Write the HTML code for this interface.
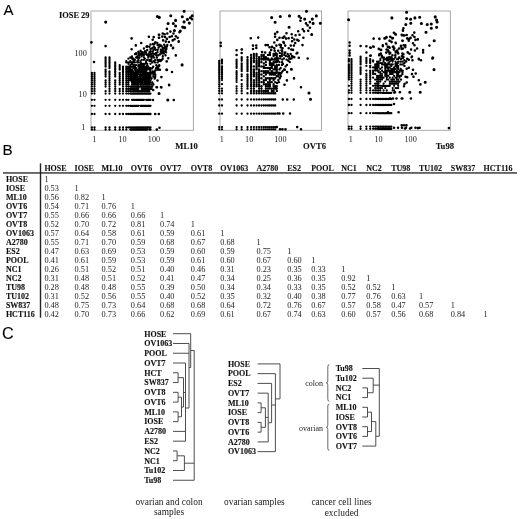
<!DOCTYPE html><html><head><meta charset="utf-8"><style>*{margin:0;padding:0}html,body{width:520px;height:519px;background:#fff;overflow:hidden}svg{display:block;filter:blur(0.25px)}</style></head><body><svg width="520" height="519" viewBox="0 0 520 519" font-family="Liberation Serif, serif"><text x="3.4" y="14.6" font-size="15" font-family="Liberation Sans, sans-serif" fill="#000" stroke="#000" stroke-width="0.1">A</text><text x="2.6" y="154.6" font-size="15.2" font-family="Liberation Sans, sans-serif" fill="#000" stroke="#000" stroke-width="0.1">B</text><text x="2.0" y="338.7" font-size="16.2" font-family="Liberation Sans, sans-serif" fill="#000" stroke="#000" stroke-width="0.1">C</text><text x="44.4" y="170.9" font-size="8" font-weight="bold" fill="#111" stroke="#111" stroke-width="0.12">HOSE</text><text x="74.6" y="170.9" font-size="8" font-weight="bold" fill="#111" stroke="#111" stroke-width="0.12">IOSE</text><text x="101.6" y="170.9" font-size="8" font-weight="bold" fill="#111" stroke="#111" stroke-width="0.12">ML10</text><text x="130.8" y="170.9" font-size="8" font-weight="bold" fill="#111" stroke="#111" stroke-width="0.12">OVT6</text><text x="160.0" y="170.9" font-size="8" font-weight="bold" fill="#111" stroke="#111" stroke-width="0.12">OVT7</text><text x="190.8" y="170.9" font-size="8" font-weight="bold" fill="#111" stroke="#111" stroke-width="0.12">OVT8</text><text x="220.2" y="170.9" font-size="8" font-weight="bold" fill="#111" stroke="#111" stroke-width="0.12">OV1063</text><text x="256.5" y="170.9" font-size="8" font-weight="bold" fill="#111" stroke="#111" stroke-width="0.12">A2780</text><text x="287.2" y="170.9" font-size="8" font-weight="bold" fill="#111" stroke="#111" stroke-width="0.12">ES2</text><text x="311.2" y="170.9" font-size="8" font-weight="bold" fill="#111" stroke="#111" stroke-width="0.12">POOL</text><text x="341.2" y="170.9" font-size="8" font-weight="bold" fill="#111" stroke="#111" stroke-width="0.12">NC1</text><text x="366.3" y="170.9" font-size="8" font-weight="bold" fill="#111" stroke="#111" stroke-width="0.12">NC2</text><text x="391.2" y="170.9" font-size="8" font-weight="bold" fill="#111" stroke="#111" stroke-width="0.12">TU98</text><text x="418.9" y="170.9" font-size="8" font-weight="bold" fill="#111" stroke="#111" stroke-width="0.12">TU102</text><text x="450.7" y="170.9" font-size="8" font-weight="bold" fill="#111" stroke="#111" stroke-width="0.12">SW837</text><text x="483.6" y="170.9" font-size="8" font-weight="bold" fill="#111" stroke="#111" stroke-width="0.12">HCT116</text><text x="5.9" y="181.7" font-size="8" font-weight="bold" fill="#111" stroke="#111" stroke-width="0.12">HOSE</text><text x="44.4" y="181.7" font-size="8.3" fill="#222" stroke="#222" stroke-width="0.0">1</text><text x="5.9" y="190.7" font-size="8" font-weight="bold" fill="#111" stroke="#111" stroke-width="0.12">IOSE</text><text x="44.4" y="190.7" font-size="8.3" fill="#222" stroke="#222" stroke-width="0.0">0.53</text><text x="74.6" y="190.7" font-size="8.3" fill="#222" stroke="#222" stroke-width="0.0">1</text><text x="5.9" y="199.8" font-size="8" font-weight="bold" fill="#111" stroke="#111" stroke-width="0.12">ML10</text><text x="44.4" y="199.8" font-size="8.3" fill="#222" stroke="#222" stroke-width="0.0">0.56</text><text x="74.6" y="199.8" font-size="8.3" fill="#222" stroke="#222" stroke-width="0.0">0.82</text><text x="101.6" y="199.8" font-size="8.3" fill="#222" stroke="#222" stroke-width="0.0">1</text><text x="5.9" y="208.8" font-size="8" font-weight="bold" fill="#111" stroke="#111" stroke-width="0.12">OVT6</text><text x="44.4" y="208.8" font-size="8.3" fill="#222" stroke="#222" stroke-width="0.0">0.54</text><text x="74.6" y="208.8" font-size="8.3" fill="#222" stroke="#222" stroke-width="0.0">0.71</text><text x="101.6" y="208.8" font-size="8.3" fill="#222" stroke="#222" stroke-width="0.0">0.76</text><text x="130.8" y="208.8" font-size="8.3" fill="#222" stroke="#222" stroke-width="0.0">1</text><text x="5.9" y="217.8" font-size="8" font-weight="bold" fill="#111" stroke="#111" stroke-width="0.12">OVT7</text><text x="44.4" y="217.8" font-size="8.3" fill="#222" stroke="#222" stroke-width="0.0">0.55</text><text x="74.6" y="217.8" font-size="8.3" fill="#222" stroke="#222" stroke-width="0.0">0.66</text><text x="101.6" y="217.8" font-size="8.3" fill="#222" stroke="#222" stroke-width="0.0">0.66</text><text x="130.8" y="217.8" font-size="8.3" fill="#222" stroke="#222" stroke-width="0.0">0.66</text><text x="160.0" y="217.8" font-size="8.3" fill="#222" stroke="#222" stroke-width="0.0">1</text><text x="5.9" y="226.8" font-size="8" font-weight="bold" fill="#111" stroke="#111" stroke-width="0.12">OVT8</text><text x="44.4" y="226.8" font-size="8.3" fill="#222" stroke="#222" stroke-width="0.0">0.52</text><text x="74.6" y="226.8" font-size="8.3" fill="#222" stroke="#222" stroke-width="0.0">0.70</text><text x="101.6" y="226.8" font-size="8.3" fill="#222" stroke="#222" stroke-width="0.0">0.72</text><text x="130.8" y="226.8" font-size="8.3" fill="#222" stroke="#222" stroke-width="0.0">0.81</text><text x="160.0" y="226.8" font-size="8.3" fill="#222" stroke="#222" stroke-width="0.0">0.74</text><text x="190.8" y="226.8" font-size="8.3" fill="#222" stroke="#222" stroke-width="0.0">1</text><text x="5.9" y="235.9" font-size="8" font-weight="bold" fill="#111" stroke="#111" stroke-width="0.12">OV1063</text><text x="44.4" y="235.9" font-size="8.3" fill="#222" stroke="#222" stroke-width="0.0">0.57</text><text x="74.6" y="235.9" font-size="8.3" fill="#222" stroke="#222" stroke-width="0.0">0.64</text><text x="101.6" y="235.9" font-size="8.3" fill="#222" stroke="#222" stroke-width="0.0">0.58</text><text x="130.8" y="235.9" font-size="8.3" fill="#222" stroke="#222" stroke-width="0.0">0.61</text><text x="160.0" y="235.9" font-size="8.3" fill="#222" stroke="#222" stroke-width="0.0">0.59</text><text x="190.8" y="235.9" font-size="8.3" fill="#222" stroke="#222" stroke-width="0.0">0.61</text><text x="220.2" y="235.9" font-size="8.3" fill="#222" stroke="#222" stroke-width="0.0">1</text><text x="5.9" y="244.9" font-size="8" font-weight="bold" fill="#111" stroke="#111" stroke-width="0.12">A2780</text><text x="44.4" y="244.9" font-size="8.3" fill="#222" stroke="#222" stroke-width="0.0">0.55</text><text x="74.6" y="244.9" font-size="8.3" fill="#222" stroke="#222" stroke-width="0.0">0.71</text><text x="101.6" y="244.9" font-size="8.3" fill="#222" stroke="#222" stroke-width="0.0">0.70</text><text x="130.8" y="244.9" font-size="8.3" fill="#222" stroke="#222" stroke-width="0.0">0.59</text><text x="160.0" y="244.9" font-size="8.3" fill="#222" stroke="#222" stroke-width="0.0">0.68</text><text x="190.8" y="244.9" font-size="8.3" fill="#222" stroke="#222" stroke-width="0.0">0.67</text><text x="220.2" y="244.9" font-size="8.3" fill="#222" stroke="#222" stroke-width="0.0">0.68</text><text x="256.5" y="244.9" font-size="8.3" fill="#222" stroke="#222" stroke-width="0.0">1</text><text x="5.9" y="253.9" font-size="8" font-weight="bold" fill="#111" stroke="#111" stroke-width="0.12">ES2</text><text x="44.4" y="253.9" font-size="8.3" fill="#222" stroke="#222" stroke-width="0.0">0.47</text><text x="74.6" y="253.9" font-size="8.3" fill="#222" stroke="#222" stroke-width="0.0">0.63</text><text x="101.6" y="253.9" font-size="8.3" fill="#222" stroke="#222" stroke-width="0.0">0.69</text><text x="130.8" y="253.9" font-size="8.3" fill="#222" stroke="#222" stroke-width="0.0">0.53</text><text x="160.0" y="253.9" font-size="8.3" fill="#222" stroke="#222" stroke-width="0.0">0.59</text><text x="190.8" y="253.9" font-size="8.3" fill="#222" stroke="#222" stroke-width="0.0">0.60</text><text x="220.2" y="253.9" font-size="8.3" fill="#222" stroke="#222" stroke-width="0.0">0.59</text><text x="256.5" y="253.9" font-size="8.3" fill="#222" stroke="#222" stroke-width="0.0">0.75</text><text x="287.2" y="253.9" font-size="8.3" fill="#222" stroke="#222" stroke-width="0.0">1</text><text x="5.9" y="263.0" font-size="8" font-weight="bold" fill="#111" stroke="#111" stroke-width="0.12">POOL</text><text x="44.4" y="263.0" font-size="8.3" fill="#222" stroke="#222" stroke-width="0.0">0.41</text><text x="74.6" y="263.0" font-size="8.3" fill="#222" stroke="#222" stroke-width="0.0">0.61</text><text x="101.6" y="263.0" font-size="8.3" fill="#222" stroke="#222" stroke-width="0.0">0.59</text><text x="130.8" y="263.0" font-size="8.3" fill="#222" stroke="#222" stroke-width="0.0">0.53</text><text x="160.0" y="263.0" font-size="8.3" fill="#222" stroke="#222" stroke-width="0.0">0.59</text><text x="190.8" y="263.0" font-size="8.3" fill="#222" stroke="#222" stroke-width="0.0">0.61</text><text x="220.2" y="263.0" font-size="8.3" fill="#222" stroke="#222" stroke-width="0.0">0.60</text><text x="256.5" y="263.0" font-size="8.3" fill="#222" stroke="#222" stroke-width="0.0">0.67</text><text x="287.2" y="263.0" font-size="8.3" fill="#222" stroke="#222" stroke-width="0.0">0.60</text><text x="311.2" y="263.0" font-size="8.3" fill="#222" stroke="#222" stroke-width="0.0">1</text><text x="5.9" y="272.0" font-size="8" font-weight="bold" fill="#111" stroke="#111" stroke-width="0.12">NC1</text><text x="44.4" y="272.0" font-size="8.3" fill="#222" stroke="#222" stroke-width="0.0">0.26</text><text x="74.6" y="272.0" font-size="8.3" fill="#222" stroke="#222" stroke-width="0.0">0.51</text><text x="101.6" y="272.0" font-size="8.3" fill="#222" stroke="#222" stroke-width="0.0">0.52</text><text x="130.8" y="272.0" font-size="8.3" fill="#222" stroke="#222" stroke-width="0.0">0.51</text><text x="160.0" y="272.0" font-size="8.3" fill="#222" stroke="#222" stroke-width="0.0">0.40</text><text x="190.8" y="272.0" font-size="8.3" fill="#222" stroke="#222" stroke-width="0.0">0.46</text><text x="220.2" y="272.0" font-size="8.3" fill="#222" stroke="#222" stroke-width="0.0">0.31</text><text x="256.5" y="272.0" font-size="8.3" fill="#222" stroke="#222" stroke-width="0.0">0.23</text><text x="287.2" y="272.0" font-size="8.3" fill="#222" stroke="#222" stroke-width="0.0">0.35</text><text x="311.2" y="272.0" font-size="8.3" fill="#222" stroke="#222" stroke-width="0.0">0.33</text><text x="341.2" y="272.0" font-size="8.3" fill="#222" stroke="#222" stroke-width="0.0">1</text><text x="5.9" y="281.0" font-size="8" font-weight="bold" fill="#111" stroke="#111" stroke-width="0.12">NC2</text><text x="44.4" y="281.0" font-size="8.3" fill="#222" stroke="#222" stroke-width="0.0">0.31</text><text x="74.6" y="281.0" font-size="8.3" fill="#222" stroke="#222" stroke-width="0.0">0.48</text><text x="101.6" y="281.0" font-size="8.3" fill="#222" stroke="#222" stroke-width="0.0">0.51</text><text x="130.8" y="281.0" font-size="8.3" fill="#222" stroke="#222" stroke-width="0.0">0.52</text><text x="160.0" y="281.0" font-size="8.3" fill="#222" stroke="#222" stroke-width="0.0">0.41</text><text x="190.8" y="281.0" font-size="8.3" fill="#222" stroke="#222" stroke-width="0.0">0.47</text><text x="220.2" y="281.0" font-size="8.3" fill="#222" stroke="#222" stroke-width="0.0">0.34</text><text x="256.5" y="281.0" font-size="8.3" fill="#222" stroke="#222" stroke-width="0.0">0.25</text><text x="287.2" y="281.0" font-size="8.3" fill="#222" stroke="#222" stroke-width="0.0">0.36</text><text x="311.2" y="281.0" font-size="8.3" fill="#222" stroke="#222" stroke-width="0.0">0.35</text><text x="341.2" y="281.0" font-size="8.3" fill="#222" stroke="#222" stroke-width="0.0">0.92</text><text x="366.3" y="281.0" font-size="8.3" fill="#222" stroke="#222" stroke-width="0.0">1</text><text x="5.9" y="290.1" font-size="8" font-weight="bold" fill="#111" stroke="#111" stroke-width="0.12">TU98</text><text x="44.4" y="290.1" font-size="8.3" fill="#222" stroke="#222" stroke-width="0.0">0.28</text><text x="74.6" y="290.1" font-size="8.3" fill="#222" stroke="#222" stroke-width="0.0">0.48</text><text x="101.6" y="290.1" font-size="8.3" fill="#222" stroke="#222" stroke-width="0.0">0.48</text><text x="130.8" y="290.1" font-size="8.3" fill="#222" stroke="#222" stroke-width="0.0">0.55</text><text x="160.0" y="290.1" font-size="8.3" fill="#222" stroke="#222" stroke-width="0.0">0.39</text><text x="190.8" y="290.1" font-size="8.3" fill="#222" stroke="#222" stroke-width="0.0">0.50</text><text x="220.2" y="290.1" font-size="8.3" fill="#222" stroke="#222" stroke-width="0.0">0.34</text><text x="256.5" y="290.1" font-size="8.3" fill="#222" stroke="#222" stroke-width="0.0">0.34</text><text x="287.2" y="290.1" font-size="8.3" fill="#222" stroke="#222" stroke-width="0.0">0.33</text><text x="311.2" y="290.1" font-size="8.3" fill="#222" stroke="#222" stroke-width="0.0">0.35</text><text x="341.2" y="290.1" font-size="8.3" fill="#222" stroke="#222" stroke-width="0.0">0.52</text><text x="366.3" y="290.1" font-size="8.3" fill="#222" stroke="#222" stroke-width="0.0">0.52</text><text x="391.2" y="290.1" font-size="8.3" fill="#222" stroke="#222" stroke-width="0.0">1</text><text x="5.9" y="299.1" font-size="8" font-weight="bold" fill="#111" stroke="#111" stroke-width="0.12">TU102</text><text x="44.4" y="299.1" font-size="8.3" fill="#222" stroke="#222" stroke-width="0.0">0.31</text><text x="74.6" y="299.1" font-size="8.3" fill="#222" stroke="#222" stroke-width="0.0">0.52</text><text x="101.6" y="299.1" font-size="8.3" fill="#222" stroke="#222" stroke-width="0.0">0.56</text><text x="130.8" y="299.1" font-size="8.3" fill="#222" stroke="#222" stroke-width="0.0">0.55</text><text x="160.0" y="299.1" font-size="8.3" fill="#222" stroke="#222" stroke-width="0.0">0.40</text><text x="190.8" y="299.1" font-size="8.3" fill="#222" stroke="#222" stroke-width="0.0">0.52</text><text x="220.2" y="299.1" font-size="8.3" fill="#222" stroke="#222" stroke-width="0.0">0.35</text><text x="256.5" y="299.1" font-size="8.3" fill="#222" stroke="#222" stroke-width="0.0">0.32</text><text x="287.2" y="299.1" font-size="8.3" fill="#222" stroke="#222" stroke-width="0.0">0.40</text><text x="311.2" y="299.1" font-size="8.3" fill="#222" stroke="#222" stroke-width="0.0">0.38</text><text x="341.2" y="299.1" font-size="8.3" fill="#222" stroke="#222" stroke-width="0.0">0.77</text><text x="366.3" y="299.1" font-size="8.3" fill="#222" stroke="#222" stroke-width="0.0">0.76</text><text x="391.2" y="299.1" font-size="8.3" fill="#222" stroke="#222" stroke-width="0.0">0.63</text><text x="418.9" y="299.1" font-size="8.3" fill="#222" stroke="#222" stroke-width="0.0">1</text><text x="5.9" y="308.1" font-size="8" font-weight="bold" fill="#111" stroke="#111" stroke-width="0.12">SW837</text><text x="44.4" y="308.1" font-size="8.3" fill="#222" stroke="#222" stroke-width="0.0">0.48</text><text x="74.6" y="308.1" font-size="8.3" fill="#222" stroke="#222" stroke-width="0.0">0.75</text><text x="101.6" y="308.1" font-size="8.3" fill="#222" stroke="#222" stroke-width="0.0">0.73</text><text x="130.8" y="308.1" font-size="8.3" fill="#222" stroke="#222" stroke-width="0.0">0.64</text><text x="160.0" y="308.1" font-size="8.3" fill="#222" stroke="#222" stroke-width="0.0">0.68</text><text x="190.8" y="308.1" font-size="8.3" fill="#222" stroke="#222" stroke-width="0.0">0.68</text><text x="220.2" y="308.1" font-size="8.3" fill="#222" stroke="#222" stroke-width="0.0">0.64</text><text x="256.5" y="308.1" font-size="8.3" fill="#222" stroke="#222" stroke-width="0.0">0.72</text><text x="287.2" y="308.1" font-size="8.3" fill="#222" stroke="#222" stroke-width="0.0">0.76</text><text x="311.2" y="308.1" font-size="8.3" fill="#222" stroke="#222" stroke-width="0.0">0.67</text><text x="341.2" y="308.1" font-size="8.3" fill="#222" stroke="#222" stroke-width="0.0">0.57</text><text x="366.3" y="308.1" font-size="8.3" fill="#222" stroke="#222" stroke-width="0.0">0.58</text><text x="391.2" y="308.1" font-size="8.3" fill="#222" stroke="#222" stroke-width="0.0">0.47</text><text x="418.9" y="308.1" font-size="8.3" fill="#222" stroke="#222" stroke-width="0.0">0.57</text><text x="450.7" y="308.1" font-size="8.3" fill="#222" stroke="#222" stroke-width="0.0">1</text><text x="5.9" y="317.1" font-size="8" font-weight="bold" fill="#111" stroke="#111" stroke-width="0.12">HCT116</text><text x="44.4" y="317.1" font-size="8.3" fill="#222" stroke="#222" stroke-width="0.0">0.42</text><text x="74.6" y="317.1" font-size="8.3" fill="#222" stroke="#222" stroke-width="0.0">0.70</text><text x="101.6" y="317.1" font-size="8.3" fill="#222" stroke="#222" stroke-width="0.0">0.73</text><text x="130.8" y="317.1" font-size="8.3" fill="#222" stroke="#222" stroke-width="0.0">0.66</text><text x="160.0" y="317.1" font-size="8.3" fill="#222" stroke="#222" stroke-width="0.0">0.62</text><text x="190.8" y="317.1" font-size="8.3" fill="#222" stroke="#222" stroke-width="0.0">0.69</text><text x="220.2" y="317.1" font-size="8.3" fill="#222" stroke="#222" stroke-width="0.0">0.61</text><text x="256.5" y="317.1" font-size="8.3" fill="#222" stroke="#222" stroke-width="0.0">0.67</text><text x="287.2" y="317.1" font-size="8.3" fill="#222" stroke="#222" stroke-width="0.0">0.74</text><text x="311.2" y="317.1" font-size="8.3" fill="#222" stroke="#222" stroke-width="0.0">0.63</text><text x="341.2" y="317.1" font-size="8.3" fill="#222" stroke="#222" stroke-width="0.0">0.60</text><text x="366.3" y="317.1" font-size="8.3" fill="#222" stroke="#222" stroke-width="0.0">0.57</text><text x="391.2" y="317.1" font-size="8.3" fill="#222" stroke="#222" stroke-width="0.0">0.56</text><text x="418.9" y="317.1" font-size="8.3" fill="#222" stroke="#222" stroke-width="0.0">0.68</text><text x="450.7" y="317.1" font-size="8.3" fill="#222" stroke="#222" stroke-width="0.0">0.84</text><text x="483.6" y="317.1" font-size="8.3" fill="#222" stroke="#222" stroke-width="0.0">1</text><rect x="3" y="172.3" width="514" height="1.3" fill="#222"/><rect x="39.8" y="163.3" width="1.4" height="154.4" fill="#222"/><rect x="91" y="11" width="102.4" height="119.30000000000001" fill="none" stroke="#aaa" stroke-width="1"/><rect x="220" y="11" width="101.5" height="119.30000000000001" fill="none" stroke="#aaa" stroke-width="1"/><rect x="348" y="11" width="102.39999999999998" height="119.30000000000001" fill="none" stroke="#aaa" stroke-width="1"/><text x="59.0" y="17.5" font-size="8.4" font-weight="bold" fill="#111" stroke="#111" stroke-width="0.12">IOSE 29</text><text x="86.8" y="56.4" font-size="8.2" text-anchor="end" fill="#222" stroke="#222" stroke-width="0.0">100</text><text x="86.8" y="97.0" font-size="8.2" text-anchor="end" fill="#222" stroke="#222" stroke-width="0.0">10</text><text x="85.3" y="130.3" font-size="8.2" text-anchor="end" fill="#222" stroke="#222" stroke-width="0.0">1</text><text x="94.3" y="142.2" font-size="8.2" text-anchor="middle" fill="#222" stroke="#222" stroke-width="0.0">1</text><text x="122.6" y="142.2" font-size="8.2" text-anchor="middle" fill="#222" stroke="#222" stroke-width="0.0">10</text><text x="154.0" y="142.2" font-size="8.2" text-anchor="middle" fill="#222" stroke="#222" stroke-width="0.0">100</text><text x="221.7" y="142.2" font-size="8.2" text-anchor="middle" fill="#222" stroke="#222" stroke-width="0.0">1</text><text x="249.2" y="142.2" font-size="8.2" text-anchor="middle" fill="#222" stroke="#222" stroke-width="0.0">10</text><text x="280.4" y="142.2" font-size="8.2" text-anchor="middle" fill="#222" stroke="#222" stroke-width="0.0">100</text><text x="350.8" y="142.2" font-size="8.2" text-anchor="middle" fill="#222" stroke="#222" stroke-width="0.0">1</text><text x="378.5" y="142.2" font-size="8.2" text-anchor="middle" fill="#222" stroke="#222" stroke-width="0.0">10</text><text x="410.6" y="142.2" font-size="8.2" text-anchor="middle" fill="#222" stroke="#222" stroke-width="0.0">100</text><text x="197.8" y="149.0" font-size="8.6" font-weight="bold" text-anchor="end" fill="#111" stroke="#111" stroke-width="0.12">ML10</text><text x="326.0" y="149.0" font-size="8.6" font-weight="bold" text-anchor="end" fill="#111" stroke="#111" stroke-width="0.12">OVT6</text><text x="454.0" y="149.0" font-size="8.6" font-weight="bold" text-anchor="end" fill="#111" stroke="#111" stroke-width="0.12">Tu98</text><text x="144.2" y="336.5" font-size="8" font-weight="bold" fill="#111" stroke="#111" stroke-width="0.12">HOSE</text><text x="144.2" y="346.3" font-size="8" font-weight="bold" fill="#111" stroke="#111" stroke-width="0.12">OV1063</text><text x="144.2" y="356.0" font-size="8" font-weight="bold" fill="#111" stroke="#111" stroke-width="0.12">POOL</text><text x="144.2" y="365.8" font-size="8" font-weight="bold" fill="#111" stroke="#111" stroke-width="0.12">OVT7</text><text x="144.2" y="375.6" font-size="8" font-weight="bold" fill="#111" stroke="#111" stroke-width="0.12">HCT</text><text x="144.2" y="385.4" font-size="8" font-weight="bold" fill="#111" stroke="#111" stroke-width="0.12">SW837</text><text x="144.2" y="395.1" font-size="8" font-weight="bold" fill="#111" stroke="#111" stroke-width="0.12">OVT8</text><text x="144.2" y="404.9" font-size="8" font-weight="bold" fill="#111" stroke="#111" stroke-width="0.12">OVT6</text><text x="144.2" y="414.7" font-size="8" font-weight="bold" fill="#111" stroke="#111" stroke-width="0.12">ML10</text><text x="144.2" y="424.4" font-size="8" font-weight="bold" fill="#111" stroke="#111" stroke-width="0.12">IOSE</text><text x="144.2" y="434.2" font-size="8" font-weight="bold" fill="#111" stroke="#111" stroke-width="0.12">A2780</text><text x="144.2" y="444.0" font-size="8" font-weight="bold" fill="#111" stroke="#111" stroke-width="0.12">ES2</text><text x="144.2" y="453.7" font-size="8" font-weight="bold" fill="#111" stroke="#111" stroke-width="0.12">NC2</text><text x="144.2" y="463.5" font-size="8" font-weight="bold" fill="#111" stroke="#111" stroke-width="0.12">NC1</text><text x="144.2" y="473.3" font-size="8" font-weight="bold" fill="#111" stroke="#111" stroke-width="0.12">Tu102</text><text x="144.2" y="483.0" font-size="8" font-weight="bold" fill="#111" stroke="#111" stroke-width="0.12">Tu98</text><text x="227.9" y="366.7" font-size="8" font-weight="bold" fill="#111" stroke="#111" stroke-width="0.12">HOSE</text><text x="227.9" y="376.4" font-size="8" font-weight="bold" fill="#111" stroke="#111" stroke-width="0.12">POOL</text><text x="227.9" y="386.2" font-size="8" font-weight="bold" fill="#111" stroke="#111" stroke-width="0.12">ES2</text><text x="227.9" y="395.9" font-size="8" font-weight="bold" fill="#111" stroke="#111" stroke-width="0.12">OVT7</text><text x="227.9" y="405.7" font-size="8" font-weight="bold" fill="#111" stroke="#111" stroke-width="0.12">ML10</text><text x="227.9" y="415.4" font-size="8" font-weight="bold" fill="#111" stroke="#111" stroke-width="0.12">IOSE</text><text x="227.9" y="425.2" font-size="8" font-weight="bold" fill="#111" stroke="#111" stroke-width="0.12">OVT8</text><text x="227.9" y="434.9" font-size="8" font-weight="bold" fill="#111" stroke="#111" stroke-width="0.12">OVT6</text><text x="227.9" y="444.7" font-size="8" font-weight="bold" fill="#111" stroke="#111" stroke-width="0.12">A2780</text><text x="227.9" y="454.4" font-size="8" font-weight="bold" fill="#111" stroke="#111" stroke-width="0.12">OV1063</text><text x="335.7" y="371.3" font-size="8" font-weight="bold" fill="#111" stroke="#111" stroke-width="0.12">Tu98</text><text x="335.7" y="381.0" font-size="8" font-weight="bold" fill="#111" stroke="#111" stroke-width="0.12">Tu102</text><text x="335.7" y="390.7" font-size="8" font-weight="bold" fill="#111" stroke="#111" stroke-width="0.12">NC2</text><text x="335.7" y="400.4" font-size="8" font-weight="bold" fill="#111" stroke="#111" stroke-width="0.12">NC1</text><text x="335.7" y="410.1" font-size="8" font-weight="bold" fill="#111" stroke="#111" stroke-width="0.12">ML10</text><text x="335.7" y="419.8" font-size="8" font-weight="bold" fill="#111" stroke="#111" stroke-width="0.12">IOSE</text><text x="335.7" y="429.5" font-size="8" font-weight="bold" fill="#111" stroke="#111" stroke-width="0.12">OVT8</text><text x="335.7" y="439.2" font-size="8" font-weight="bold" fill="#111" stroke="#111" stroke-width="0.12">OVT6</text><text x="335.7" y="448.9" font-size="8" font-weight="bold" fill="#111" stroke="#111" stroke-width="0.12">OVT7</text><text x="323.1" y="386.3" font-size="8" text-anchor="end" fill="#222" stroke="#222" stroke-width="0.0">colon</text><text x="323.1" y="430.6" font-size="8" text-anchor="end" fill="#222" stroke="#222" stroke-width="0.0">ovarian</text><line x1="173" y1="333.7" x2="190.7" y2="333.7" stroke="#3a3a3a" stroke-width="0.9"/><line x1="190.7" y1="333.7" x2="190.7" y2="367.5" stroke="#3a3a3a" stroke-width="0.9"/><line x1="189" y1="367.5" x2="190.7" y2="367.5" stroke="#3a3a3a" stroke-width="0.9"/><line x1="190.7" y1="350.5" x2="194.2" y2="350.5" stroke="#3a3a3a" stroke-width="0.9"/><line x1="194.2" y1="350.5" x2="194.2" y2="480.25" stroke="#3a3a3a" stroke-width="0.9"/><line x1="173" y1="343.46999999999997" x2="189" y2="343.46999999999997" stroke="#3a3a3a" stroke-width="0.9"/><line x1="173" y1="353.24" x2="189" y2="353.24" stroke="#3a3a3a" stroke-width="0.9"/><line x1="189" y1="343.46999999999997" x2="189" y2="408" stroke="#3a3a3a" stroke-width="0.9"/><line x1="185.5" y1="408" x2="189" y2="408" stroke="#3a3a3a" stroke-width="0.9"/><line x1="173" y1="363.01" x2="185.5" y2="363.01" stroke="#3a3a3a" stroke-width="0.9"/><line x1="185.5" y1="363.01" x2="185.5" y2="441.16999999999996" stroke="#3a3a3a" stroke-width="0.9"/><line x1="173" y1="372.78" x2="178.1" y2="372.78" stroke="#3a3a3a" stroke-width="0.9"/><line x1="173" y1="382.54999999999995" x2="178.1" y2="382.54999999999995" stroke="#3a3a3a" stroke-width="0.9"/><line x1="178.1" y1="372.78" x2="178.1" y2="382.54999999999995" stroke="#3a3a3a" stroke-width="0.9"/><line x1="178.1" y1="377.66499999999996" x2="183.5" y2="377.66499999999996" stroke="#3a3a3a" stroke-width="0.9"/><line x1="173" y1="392.32" x2="178.1" y2="392.32" stroke="#3a3a3a" stroke-width="0.9"/><line x1="173" y1="402.09" x2="178.1" y2="402.09" stroke="#3a3a3a" stroke-width="0.9"/><line x1="178.1" y1="392.32" x2="178.1" y2="402.09" stroke="#3a3a3a" stroke-width="0.9"/><line x1="178.1" y1="397.205" x2="181.5" y2="397.205" stroke="#3a3a3a" stroke-width="0.9"/><line x1="173" y1="411.86" x2="178.1" y2="411.86" stroke="#3a3a3a" stroke-width="0.9"/><line x1="173" y1="421.63" x2="178.1" y2="421.63" stroke="#3a3a3a" stroke-width="0.9"/><line x1="178.1" y1="411.86" x2="178.1" y2="421.63" stroke="#3a3a3a" stroke-width="0.9"/><line x1="178.1" y1="416.745" x2="181.5" y2="416.745" stroke="#3a3a3a" stroke-width="0.9"/><line x1="181.5" y1="397.205" x2="181.5" y2="416.745" stroke="#3a3a3a" stroke-width="0.9"/><line x1="181.5" y1="407" x2="183.5" y2="407" stroke="#3a3a3a" stroke-width="0.9"/><line x1="183.5" y1="377.66499999999996" x2="183.5" y2="407" stroke="#3a3a3a" stroke-width="0.9"/><line x1="183.5" y1="392.5" x2="185.5" y2="392.5" stroke="#3a3a3a" stroke-width="0.9"/><line x1="173" y1="431.4" x2="185.5" y2="431.4" stroke="#3a3a3a" stroke-width="0.9"/><line x1="173" y1="441.16999999999996" x2="185.5" y2="441.16999999999996" stroke="#3a3a3a" stroke-width="0.9"/><line x1="173" y1="450.94" x2="177.1" y2="450.94" stroke="#3a3a3a" stroke-width="0.9"/><line x1="173" y1="460.71" x2="177.1" y2="460.71" stroke="#3a3a3a" stroke-width="0.9"/><line x1="177.1" y1="450.94" x2="177.1" y2="460.71" stroke="#3a3a3a" stroke-width="0.9"/><line x1="177.1" y1="455.825" x2="184.4" y2="455.825" stroke="#3a3a3a" stroke-width="0.9"/><line x1="173" y1="470.48" x2="184.4" y2="470.48" stroke="#3a3a3a" stroke-width="0.9"/><line x1="184.4" y1="455.825" x2="184.4" y2="470.48" stroke="#3a3a3a" stroke-width="0.9"/><line x1="184.4" y1="463.2" x2="194.2" y2="463.2" stroke="#3a3a3a" stroke-width="0.9"/><line x1="173" y1="480.25" x2="194.2" y2="480.25" stroke="#3a3a3a" stroke-width="0.9"/><line x1="257.6" y1="363.9" x2="280" y2="363.9" stroke="#3a3a3a" stroke-width="0.9"/><line x1="280" y1="363.9" x2="280" y2="398.9" stroke="#3a3a3a" stroke-width="0.9"/><line x1="275.4" y1="398.9" x2="280" y2="398.9" stroke="#3a3a3a" stroke-width="0.9"/><line x1="257.6" y1="373.65" x2="275.4" y2="373.65" stroke="#3a3a3a" stroke-width="0.9"/><line x1="275.4" y1="373.65" x2="275.4" y2="451.65" stroke="#3a3a3a" stroke-width="0.9"/><line x1="257.6" y1="451.65" x2="275.4" y2="451.65" stroke="#3a3a3a" stroke-width="0.9"/><line x1="257.6" y1="383.4" x2="271.6" y2="383.4" stroke="#3a3a3a" stroke-width="0.9"/><line x1="271.6" y1="383.4" x2="271.6" y2="422.7" stroke="#3a3a3a" stroke-width="0.9"/><line x1="271.6" y1="405" x2="275.4" y2="405" stroke="#3a3a3a" stroke-width="0.9"/><line x1="257.6" y1="393.15" x2="268.2" y2="393.15" stroke="#3a3a3a" stroke-width="0.9"/><line x1="268.2" y1="393.15" x2="268.2" y2="441.9" stroke="#3a3a3a" stroke-width="0.9"/><line x1="257.6" y1="441.9" x2="268.2" y2="441.9" stroke="#3a3a3a" stroke-width="0.9"/><line x1="268.2" y1="422.7" x2="271.6" y2="422.7" stroke="#3a3a3a" stroke-width="0.9"/><line x1="257.6" y1="402.9" x2="261.1" y2="402.9" stroke="#3a3a3a" stroke-width="0.9"/><line x1="257.6" y1="412.65" x2="261.1" y2="412.65" stroke="#3a3a3a" stroke-width="0.9"/><line x1="261.1" y1="402.9" x2="261.1" y2="412.65" stroke="#3a3a3a" stroke-width="0.9"/><line x1="261.1" y1="407.775" x2="265.4" y2="407.775" stroke="#3a3a3a" stroke-width="0.9"/><line x1="257.6" y1="422.4" x2="261.1" y2="422.4" stroke="#3a3a3a" stroke-width="0.9"/><line x1="257.6" y1="432.15" x2="261.1" y2="432.15" stroke="#3a3a3a" stroke-width="0.9"/><line x1="261.1" y1="422.4" x2="261.1" y2="432.15" stroke="#3a3a3a" stroke-width="0.9"/><line x1="261.1" y1="427.275" x2="265.4" y2="427.275" stroke="#3a3a3a" stroke-width="0.9"/><line x1="265.4" y1="407.775" x2="265.4" y2="427.275" stroke="#3a3a3a" stroke-width="0.9"/><line x1="265.4" y1="417.4" x2="268.2" y2="417.4" stroke="#3a3a3a" stroke-width="0.9"/><line x1="362.3" y1="368.5" x2="379.3" y2="368.5" stroke="#3a3a3a" stroke-width="0.9"/><line x1="379.3" y1="368.5" x2="379.3" y2="436.3" stroke="#3a3a3a" stroke-width="0.9"/><line x1="362.3" y1="378.2" x2="373.2" y2="378.2" stroke="#3a3a3a" stroke-width="0.9"/><line x1="373.2" y1="378.2" x2="373.2" y2="392.6" stroke="#3a3a3a" stroke-width="0.9"/><line x1="373.2" y1="385.1" x2="379.3" y2="385.1" stroke="#3a3a3a" stroke-width="0.9"/><line x1="362.3" y1="387.9" x2="367.5" y2="387.9" stroke="#3a3a3a" stroke-width="0.9"/><line x1="362.3" y1="397.6" x2="367.5" y2="397.6" stroke="#3a3a3a" stroke-width="0.9"/><line x1="367.5" y1="387.9" x2="367.5" y2="397.6" stroke="#3a3a3a" stroke-width="0.9"/><line x1="367.5" y1="392.75" x2="373.2" y2="392.75" stroke="#3a3a3a" stroke-width="0.9"/><line x1="362.3" y1="407.3" x2="367.5" y2="407.3" stroke="#3a3a3a" stroke-width="0.9"/><line x1="362.3" y1="417.0" x2="367.5" y2="417.0" stroke="#3a3a3a" stroke-width="0.9"/><line x1="367.5" y1="407.3" x2="367.5" y2="417.0" stroke="#3a3a3a" stroke-width="0.9"/><line x1="367.5" y1="412.15" x2="371.5" y2="412.15" stroke="#3a3a3a" stroke-width="0.9"/><line x1="362.3" y1="426.7" x2="367.5" y2="426.7" stroke="#3a3a3a" stroke-width="0.9"/><line x1="362.3" y1="436.4" x2="367.5" y2="436.4" stroke="#3a3a3a" stroke-width="0.9"/><line x1="367.5" y1="426.7" x2="367.5" y2="436.4" stroke="#3a3a3a" stroke-width="0.9"/><line x1="367.5" y1="431.54999999999995" x2="371.5" y2="431.54999999999995" stroke="#3a3a3a" stroke-width="0.9"/><line x1="371.5" y1="412.15" x2="371.5" y2="431.54999999999995" stroke="#3a3a3a" stroke-width="0.9"/><line x1="371.5" y1="421.6" x2="375.8" y2="421.6" stroke="#3a3a3a" stroke-width="0.9"/><line x1="362.3" y1="446.1" x2="375.8" y2="446.1" stroke="#3a3a3a" stroke-width="0.9"/><line x1="375.8" y1="421.6" x2="375.8" y2="446.1" stroke="#3a3a3a" stroke-width="0.9"/><line x1="375.8" y1="436.3" x2="379.3" y2="436.3" stroke="#3a3a3a" stroke-width="0.9"/><path d="M329.3,364.6 Q327.8,364.6 327.8,366.6 L327.8,380.9 Q327.8,382.9 326.3,382.9 Q327.8,382.9 327.8,384.9 L327.8,399.2 Q327.8,401.2 329.3,401.2" fill="none" stroke="#444" stroke-width="0.8"/><path d="M329.3,404 Q327.8,404 327.8,406 L327.8,425.2 Q327.8,427.2 326.3,427.2 Q327.8,427.2 327.8,429.2 L327.8,448.4 Q327.8,450.4 329.3,450.4" fill="none" stroke="#444" stroke-width="0.8"/><text x="169.0" y="504.6" font-size="9.4" text-anchor="middle" fill="#222" stroke="#222" stroke-width="0.0">ovarian and colon</text><text x="169.0" y="515.3" font-size="9.4" text-anchor="middle" fill="#222" stroke="#222" stroke-width="0.0">samples</text><text x="254.4" y="505.0" font-size="9.4" text-anchor="middle" fill="#222" stroke="#222" stroke-width="0.0">ovarian samples</text><text x="341.6" y="505.2" font-size="9.4" text-anchor="middle" fill="#222" stroke="#222" stroke-width="0.0">cancer cell lines</text><text x="341.6" y="516.2" font-size="9.4" text-anchor="middle" fill="#222" stroke="#222" stroke-width="0.0">excluded</text><path d="M126.3 93.6h0M139.5 93.6h0M147.2 93.6h0M146.1 93.6h0M137.3 93.6h0M132.0 93.6h0M143.9 93.6h0M142.8 93.6h0M138.4 93.6h0M134.9 93.6h0M136.1 93.6h0M141.7 93.6h0M150.5 93.6h0M148.3 93.6h0M128.4 93.6h0M145.0 93.6h0M140.6 93.6h0M133.5 93.6h0M149.4 93.6h0M145.0 76.6h0M149.4 91.2h0M132.0 86.6h0M130.3 69.7h0M136.1 82.4h0M150.5 69.7h0M143.9 78.5h0M143.9 69.7h0M149.4 68.2h0M126.3 74.8h0M149.4 82.4h0M126.3 82.4h0M137.3 82.4h0M145.0 84.5h0M147.2 76.6h0M146.1 91.2h0M136.1 91.2h0M150.5 76.6h0M134.9 86.6h0M137.3 78.5h0M134.9 78.5h0M128.4 68.2h0M145.0 82.4h0M142.8 88.9h0M130.3 73.0h0M132.0 74.8h0M133.5 84.5h0M128.4 69.7h0M143.9 86.6h0M132.0 84.5h0M126.3 76.6h0M140.6 73.0h0M133.5 82.4h0M140.6 69.7h0M143.9 68.2h0M130.3 71.4h0M138.4 82.4h0M143.9 74.8h0M133.5 66.7h0M126.3 80.4h0M126.3 71.4h0M133.5 68.2h0M126.3 91.2h0M136.1 71.4h0M143.9 66.7h0M130.3 93.6h0M149.4 84.5h0M126.3 69.7h0M141.7 68.2h0M128.4 91.2h0M133.5 74.8h0M126.3 88.9h0M142.8 80.4h0M132.0 82.4h0M150.5 88.9h0M141.7 80.4h0M143.9 88.9h0M146.1 78.5h0M128.4 66.7h0M130.3 91.2h0M134.9 74.8h0M138.4 66.7h0M143.9 80.4h0M148.3 91.2h0M133.5 73.0h0M150.5 80.4h0M126.3 66.7h0M138.4 78.5h0M134.9 88.9h0M141.7 86.6h0M140.6 71.4h0M147.2 66.7h0M143.9 71.4h0M139.5 68.2h0M136.1 84.5h0M126.3 73.0h0M134.9 80.4h0M137.3 91.2h0M132.0 88.9h0M150.5 68.2h0M146.1 80.4h0M134.9 76.6h0M146.1 71.4h0M130.3 80.4h0M132.0 69.7h0M128.4 88.9h0M149.4 69.7h0M128.4 71.4h0M140.6 78.5h0M142.8 74.8h0M149.4 73.0h0M149.4 76.6h0M138.4 91.2h0M142.8 68.2h0M126.3 78.5h0M140.6 74.8h0M146.1 82.4h0M128.4 80.4h0M141.7 78.5h0M148.3 76.6h0M138.4 69.7h0M139.5 86.6h0M145.0 73.0h0M151.6 86.6h0M136.1 78.5h0M132.0 91.2h0M134.9 91.2h0M128.4 76.6h0M147.2 91.2h0M148.3 84.5h0M145.0 78.5h0M132.0 80.4h0M145.0 88.9h0M146.1 68.2h0M148.3 82.4h0M149.4 88.9h0M148.3 68.2h0M140.6 84.5h0M130.3 76.6h0M147.2 80.4h0M138.4 86.6h0M134.9 82.4h0M133.5 76.6h0M141.7 91.2h0M140.6 80.4h0M148.3 74.8h0M137.3 69.7h0M138.4 73.0h0M134.9 84.5h0M128.4 78.5h0M133.5 91.2h0M126.3 86.6h0M132.0 66.7h0M145.0 68.2h0M143.9 91.2h0M148.3 88.9h0M139.5 80.4h0M150.5 74.8h0M142.8 86.6h0M126.3 68.2h0M142.8 82.4h0M139.5 66.7h0M150.5 71.4h0M137.3 80.4h0M142.8 76.6h0M136.1 76.6h0M136.1 74.8h0M147.2 88.9h0M139.5 78.5h0M133.5 86.6h0M142.8 71.4h0M147.2 84.5h0M126.3 84.5h0M140.6 82.4h0M136.1 73.0h0M146.1 73.0h0M143.9 76.6h0M133.5 80.4h0M138.4 84.5h0M141.7 84.5h0M133.5 88.9h0M128.4 82.4h0M147.2 86.6h0M128.4 74.8h0M141.7 71.4h0M134.9 66.7h0M142.8 84.5h0M137.3 71.4h0M137.3 73.0h0M146.1 88.9h0M147.2 74.8h0M145.0 91.2h0M138.4 88.9h0M138.4 71.4h0M149.4 80.4h0M142.8 78.5h0M137.3 84.5h0M151.6 88.9h0M130.3 68.2h0M150.5 86.6h0M136.1 86.6h0M132.0 73.0h0M142.8 66.7h0M133.5 71.4h0M137.3 86.6h0M139.5 71.4h0M149.4 74.8h0M137.3 88.9h0M137.3 74.8h0M142.8 73.0h0M147.2 73.0h0M141.7 82.4h0M145.0 80.4h0M143.9 73.0h0M146.1 69.7h0M141.7 88.9h0M132.0 78.5h0M130.3 86.6h0M145.0 86.6h0M136.1 80.4h0M132.0 76.6h0M130.3 66.7h0M139.5 76.6h0M128.4 84.5h0M146.1 86.6h0M136.1 88.9h0M138.4 80.4h0M137.3 76.6h0M148.3 78.5h0M136.1 68.2h0M150.5 82.4h0M139.5 74.8h0M130.3 78.5h0M147.2 69.7h0M134.9 73.0h0M132.0 71.4h0M146.1 66.7h0M150.5 73.0h0M149.4 86.6h0M133.5 78.5h0M141.7 74.8h0M139.5 69.7h0M147.2 78.5h0M130.3 74.8h0M139.5 91.2h0M140.6 76.6h0M139.5 82.4h0M148.3 73.0h0M142.8 91.2h0M149.4 78.5h0M128.4 86.6h0M128.4 73.0h0M148.3 80.4h0M134.9 68.2h0M146.1 74.8h0M140.6 86.6h0M146.1 76.6h0M130.3 88.9h0M143.9 84.5h0M142.8 69.7h0M145.0 69.7h0M148.3 66.7h0M146.1 84.5h0M140.6 91.2h0M148.3 86.6h0M147.2 82.4h0M145.0 74.8h0M134.9 69.7h0M140.6 66.7h0M139.5 53.2h0M150.5 52.2h0M133.5 65.2h0M138.4 53.2h0M128.4 63.8h0M141.7 53.2h0M132.0 58.7h0M141.7 63.8h0M143.9 55.2h0M141.7 54.2h0M136.1 53.2h0M140.6 62.4h0M149.4 52.2h0M136.1 54.2h0M134.9 65.2h0M132.0 62.4h0M150.5 59.9h0M150.5 61.1h0M139.5 65.2h0M133.5 61.1h0M141.7 55.2h0M151.6 78.5h0M151.6 73.0h0M151.6 54.2h0M151.6 61.1h0M148.3 54.2h0M142.8 52.2h0M151.6 56.3h0M136.1 65.2h0M140.6 61.1h0M141.7 65.2h0M147.2 63.8h0M146.1 52.2h0M138.4 62.4h0M138.4 58.7h0M130.3 65.2h0M134.9 62.4h0M143.9 54.2h0M140.6 63.8h0M138.4 55.2h0M133.5 62.4h0M138.4 57.5h0M132.0 56.3h0M147.2 59.9h0M143.9 59.9h0M128.4 62.4h0M133.5 59.9h0M126.3 61.1h0M138.4 59.9h0M146.1 54.2h0M126.3 62.4h0M130.3 61.1h0M150.5 63.8h0M147.2 55.2h0M133.5 58.7h0M134.9 59.9h0M143.9 63.8h0M143.9 65.2h0M141.7 52.2h0M148.3 57.5h0M146.1 62.4h0M145.0 52.2h0M151.6 84.5h0M148.3 56.3h0M134.9 54.2h0M136.1 57.5h0M149.4 61.1h0M143.9 57.5h0M132.0 63.8h0M137.3 61.1h0M145.0 63.8h0M139.5 55.2h0M150.5 56.3h0M128.4 58.7h0M151.6 58.7h0M147.2 65.2h0M142.8 63.8h0M132.0 57.5h0M137.3 56.3h0M150.5 54.2h0M130.3 57.5h0M138.4 65.2h0M142.8 54.2h0M130.3 62.4h0M141.7 56.3h0M151.6 57.5h0M140.6 54.2h0M149.4 59.9h0M149.4 55.2h0M141.7 59.9h0M146.1 61.1h0M137.3 62.4h0M137.3 57.5h0M139.5 57.5h0M145.0 58.7h0" stroke="#000" stroke-width="2.3" stroke-linecap="round" fill="none"/><path d="M158.7 61.1h0M153.4 74.8h0M156.3 65.2h0M152.4 82.4h0M157.6 45.0h0M140.6 50.8h0M161.4 45.8h0M153.3 76.6h0M158.0 69.7h0M147.2 46.2h0M156.9 57.5h0M159.5 46.4h0M158.3 68.2h0M154.0 57.5h0M161.6 59.9h0M165.5 55.2h0M167.3 44.9h0M156.3 55.2h0M160.1 54.2h0M157.5 66.7h0M154.7 78.5h0M157.5 52.2h0M157.6 62.4h0M145.0 51.2h0M152.2 48.3h0M158.5 47.6h0M153.8 49.4h0M159.5 59.9h0M147.2 50.0h0M154.5 43.7h0M155.8 53.2h0M165.6 50.3h0M163.8 53.2h0M157.3 42.9h0M164.2 44.7h0M160.7 51.8h0M143.9 48.5h0M166.1 52.2h0M150.5 49.0h0M152.9 73.0h0M155.3 74.8h0M153.2 66.7h0M160.7 61.1h0M166.9 46.5h0M152.8 71.4h0M152.2 68.2h0M149.4 46.7h0M152.2 86.6h0M158.4 55.2h0M150.5 44.5h0M150.5 51.2h0M159.7 44.6h0M154.0 61.1h0M155.3 59.9h0M153.8 46.5h0M152.8 56.3h0M162.6 47.5h0M160.8 49.6h0M155.1 62.4h0M162.7 58.7h0M159.2 65.2h0M152.3 62.4h0M162.5 51.4h0M164.0 51.5h0M162.8 56.3h0M154.2 54.2h0M157.7 49.7h0M152.9 44.0h0M152.8 51.1h0M156.1 68.2h0M157.8 59.9h0M154.7 73.0h0M154.5 71.4h0M155.6 49.7h0M164.2 48.3h0M162.1 53.2h0M152.9 53.2h0M138.4 51.7h0M154.8 47.8h0M162.6 49.8h0M166.4 49.0h0M153.4 84.5h0M165.2 46.8h0" stroke="#000" stroke-width="2.4" stroke-linecap="round" fill="none"/><path d="M94.5 82.4h0M94.5 74.8h0M94.5 78.5h0M94.5 105.8h0M91.9 99.8h0M91.9 76.6h0M94.5 129.6h0M91.9 78.5h0M91.9 88.9h0M94.5 99.8h0M94.5 88.9h0M91.9 86.6h0M94.5 86.6h0M94.5 73.0h0M94.5 84.5h0M91.9 73.0h0M91.9 105.8h0M94.5 114.0h0M91.9 129.6h0M94.5 80.4h0M94.5 93.6h0M94.5 76.6h0M91.9 80.4h0M91.9 127.4h0M94.5 91.2h0M91.9 114.0h0M91.9 91.2h0M91.9 84.5h0M91.9 82.4h0M94.5 127.4h0M91.9 74.8h0M91.9 93.6h0M105.6 74.8h0M105.6 65.2h0M105.6 63.8h0M105.6 59.9h0M105.6 57.5h0M105.6 99.8h0M105.6 80.4h0M105.6 58.7h0M105.6 86.6h0M105.6 129.6h0M105.6 73.0h0M105.6 69.7h0M105.6 105.8h0M105.6 62.4h0M105.6 61.1h0M105.6 71.4h0M105.6 76.6h0M105.6 114.0h0M105.6 66.7h0M105.6 91.2h0M105.6 93.6h0M105.6 84.5h0M105.6 82.4h0M109.5 84.5h0M109.5 105.8h0M109.5 88.9h0M109.5 114.0h0M109.5 58.7h0M109.5 93.6h0M109.5 78.5h0M109.5 57.5h0M109.5 99.8h0M109.5 76.6h0M109.5 74.8h0M109.5 59.9h0M109.5 65.2h0M109.5 73.0h0M109.5 62.4h0M109.5 80.4h0M109.5 61.1h0M109.5 82.4h0M109.5 66.7h0M109.5 127.4h0M109.5 91.2h0M109.5 63.8h0M109.5 68.2h0M109.5 86.6h0M109.5 71.4h0M115.2 63.8h0M115.2 62.4h0M115.2 91.2h0M115.2 88.9h0M115.2 74.8h0M115.2 84.5h0M115.2 71.4h0M115.2 99.8h0M115.2 105.8h0M115.2 127.4h0M115.2 82.4h0M115.2 68.2h0M115.2 66.7h0M115.2 76.6h0M115.2 114.0h0M115.2 69.7h0M115.2 65.2h0M115.2 80.4h0M115.2 73.0h0M115.2 86.6h0M115.2 93.6h0M115.2 129.6h0M123.0 68.2h0M123.0 69.7h0M119.7 66.7h0M123.0 74.8h0M123.0 73.0h0M123.0 91.2h0M119.7 105.8h0M119.7 84.5h0M119.7 93.6h0M119.7 74.8h0M119.7 65.2h0M123.0 93.6h0M119.7 91.2h0M123.0 114.0h0M119.7 114.0h0M123.0 127.4h0M119.7 80.4h0M123.0 76.6h0M123.0 84.5h0M123.0 99.8h0M119.7 73.0h0M123.0 88.9h0M119.7 99.8h0M123.0 129.6h0M119.7 78.5h0M119.7 69.7h0M119.7 76.6h0M123.0 82.4h0M123.0 86.6h0M123.0 71.4h0M123.0 66.7h0M119.7 127.4h0M119.7 88.9h0M119.7 82.4h0M119.7 68.2h0M123.0 78.5h0M123.0 80.4h0M128.4 99.8h0M146.1 114.0h0M119.7 129.6h0M133.5 127.4h0M132.0 127.4h0M142.8 114.0h0M142.8 129.6h0M143.9 105.8h0M141.7 114.0h0M132.0 99.8h0M143.9 99.8h0M126.3 99.8h0M137.3 127.4h0M148.3 105.8h0M145.0 114.0h0M140.6 129.6h0M150.5 105.8h0M149.4 99.8h0M146.1 129.6h0M140.6 127.4h0M143.9 127.4h0M142.8 127.4h0M134.9 129.6h0M132.0 114.0h0M133.5 114.0h0M137.3 129.6h0M142.8 99.8h0M132.0 129.6h0M146.1 127.4h0M148.3 114.0h0M109.5 129.6h0M150.5 129.6h0M148.3 127.4h0M148.3 99.8h0M143.9 129.6h0M128.4 114.0h0M134.9 99.8h0M150.5 127.4h0M147.2 127.4h0M123.0 105.8h0M147.2 105.8h0M126.3 127.4h0M137.3 99.8h0M136.1 99.8h0M139.5 114.0h0M145.0 127.4h0M147.2 114.0h0M149.4 127.4h0M150.5 99.8h0M136.1 114.0h0M136.1 105.8h0M147.2 129.6h0M146.1 99.8h0M128.4 127.4h0M149.4 105.8h0M136.1 127.4h0M105.6 127.4h0M150.5 114.0h0M138.4 114.0h0M145.0 129.6h0M126.3 105.8h0M141.7 99.8h0M140.6 99.8h0M133.5 129.6h0M141.7 127.4h0M130.3 114.0h0M137.3 105.8h0M134.9 114.0h0M142.8 105.8h0M138.4 129.6h0M139.5 127.4h0M137.3 114.0h0M139.5 129.6h0M141.7 105.8h0M140.6 114.0h0M138.4 127.4h0M136.1 129.6h0M130.3 129.6h0M138.4 99.8h0M133.5 105.8h0M130.3 127.4h0M141.7 129.6h0M128.4 105.8h0M132.0 105.8h0M134.9 127.4h0M149.4 114.0h0M143.9 114.0h0M140.6 105.8h0M139.5 99.8h0M145.0 105.8h0M149.4 129.6h0M133.5 99.8h0M130.3 105.8h0M134.9 105.8h0M126.3 114.0h0M146.1 105.8h0M126.3 129.6h0M138.4 105.8h0M147.2 99.8h0" stroke="#000" stroke-width="2.3" stroke-linecap="round" fill="none"/><path d="M91.4 42.4h0M105.6 46.1h0M94.0 62.0h0M131.6 38.4h0M148.9 36.8h0M153.7 37.1h0M152.7 39.7h0M158.9 34.7h0M158.9 37.7h0M141.2 43.0h0M135.8 45.4h0M146.6 46.8h0M155.4 42.4h0M131.6 49.3h0M192.0 19.2h0M166.9 28.9h0M179.5 32.3h0M170.4 31.6h0M159.2 34.7h0M162.7 33.5h0M164.6 34.3h0M167.3 33.5h0M173.5 33.5h0M159.2 37.7h0M162.3 36.6h0M165.0 37.0h0M166.9 38.9h0M169.6 37.0h0M171.9 36.2h0M175.8 36.2h0M177.7 37.7h0M174.6 39.3h0M172.7 40.4h0M163.1 40.4h0M165.8 41.6h0M168.9 42.0h0M178.7 41.4h0M171.0 45.4h0M173.1 47.9h0M178.7 41.7h0M171.0 45.3h0M172.9 48.2h0M175.8 55.4h0M168.3 58.3h0M166.7 61.4h0M172.0 72.0h0M159.9 69.7h0M161.4 77.1h0M155.1 77.1h0M169.1 84.8h0M161.4 87.4h0M157.0 87.2h0M157.5 80.5h0M146.9 46.7h0M155.6 70.3h0M159.0 66.0h0M169.2 85.2h0M156.5 87.2h0M161.0 87.2h0M153.2 90.0h0M153.0 100.0h0M173.8 100.0h0M155.2 114.0h0M158.8 114.0h0M159.5 127.8h0M156.8 129.6h0" stroke="#000" stroke-width="2.60" stroke-linecap="round" fill="none"/><path d="M105.7 22.1h0M157.4 16.5h0M159.3 17.4h0M184.1 11.2h0M170.8 15.8h0M182.3 16.8h0M192.2 15.8h0M190.4 17.7h0M187.4 19.4h0M175.6 20.4h0M184.1 21.9h0M189.3 23.1h0M168.1 23.5h0M173.3 23.5h0M175.6 26.0h0M182.7 27.1h0M184.7 27.6h0M174.4 30.6h0M180.3 31.0h0M182.1 64.9h0M166.7 69.7h0M159.0 93.5h0M167.8 100.0h0" stroke="#000" stroke-width="3.1" stroke-linecap="round" fill="none"/><path d="M247.5 86.3h0M247.5 59.6h0M247.5 60.8h0M251.1 60.8h0M251.1 74.5h0M247.5 66.4h0M251.1 62.1h0M251.1 67.9h0M251.1 78.2h0M247.5 76.3h0M247.5 63.5h0M247.5 84.2h0M251.1 72.7h0M247.5 78.2h0M251.1 64.9h0M247.5 74.5h0M251.1 80.1h0M251.1 93.3h0M247.5 93.3h0M247.5 88.6h0M247.5 82.1h0M247.5 69.4h0M251.1 76.3h0M247.5 64.9h0M251.1 59.6h0M247.5 71.1h0M251.1 69.4h0M247.5 67.9h0M251.1 82.1h0M251.1 63.5h0M247.5 62.1h0M251.1 90.9h0M251.1 84.2h0M251.1 71.1h0M259.1 93.3h0M253.9 93.3h0M263.8 93.3h0M275.2 93.3h0M268.0 93.3h0M256.6 93.3h0M261.5 93.3h0M265.9 93.3h0M271.8 93.3h0M273.6 93.3h0M256.6 80.1h0M268.0 72.7h0M261.5 88.6h0M275.2 72.7h0M269.9 72.7h0M273.6 78.2h0M268.0 90.9h0M259.1 72.7h0M265.9 74.5h0M268.0 78.2h0M269.9 88.6h0M263.8 90.9h0M271.8 88.6h0M265.9 71.1h0M273.6 72.7h0M269.9 67.9h0M265.9 90.9h0M261.5 78.2h0M256.6 76.3h0M276.8 90.9h0M256.6 84.2h0M276.8 72.7h0M273.6 86.3h0M273.6 63.5h0M253.9 82.1h0M247.5 80.1h0M268.0 86.3h0M273.6 69.4h0M251.1 88.6h0M253.9 86.3h0M259.1 88.6h0M268.0 88.6h0M271.8 90.9h0M253.9 72.7h0M265.9 80.1h0M256.6 63.5h0M269.9 84.2h0M253.9 62.1h0M253.9 66.4h0M253.9 74.5h0M273.6 88.6h0M259.1 64.9h0M259.1 80.1h0M269.9 82.1h0M256.6 60.8h0M263.8 80.1h0M261.5 66.4h0M251.1 86.3h0M259.1 69.4h0M263.8 66.4h0M271.8 63.5h0M256.6 62.1h0M275.2 88.6h0M253.9 88.6h0M259.1 78.2h0M263.8 82.1h0M256.6 67.9h0M259.1 71.1h0M253.9 60.8h0M273.6 64.9h0M276.8 66.4h0M271.8 71.1h0M263.8 71.1h0M256.6 90.9h0M275.2 66.4h0M269.9 64.9h0M265.9 84.2h0M269.9 86.3h0M259.1 66.4h0M275.2 74.5h0M273.6 84.2h0M265.9 67.9h0M269.9 74.5h0M268.0 67.9h0M276.8 64.9h0M253.9 71.1h0M268.0 71.1h0M256.6 86.3h0M275.2 86.3h0M256.6 82.1h0M259.1 82.1h0M259.1 90.9h0M263.8 72.7h0M273.6 80.1h0M273.6 74.5h0M261.5 90.9h0M256.6 74.5h0M265.9 78.2h0M268.0 84.2h0M269.9 80.1h0M263.8 76.3h0M275.2 69.4h0M259.1 84.2h0M256.6 72.7h0M253.9 69.4h0M256.6 64.9h0M253.9 90.9h0M261.5 71.1h0M271.8 67.9h0M269.9 62.1h0M276.8 71.1h0M269.9 93.3h0M269.9 63.5h0M271.8 78.2h0M276.8 88.6h0M251.1 66.4h0M265.9 86.3h0M273.6 90.9h0M276.8 86.3h0M269.9 69.4h0M275.2 67.9h0M259.1 62.1h0M271.8 82.1h0M261.5 74.5h0M261.5 62.1h0M265.9 72.7h0M253.9 76.3h0M268.0 82.1h0M263.8 84.2h0M259.1 74.5h0M263.8 63.5h0M259.1 63.5h0M269.9 60.8h0M265.9 64.9h0M273.6 62.1h0M265.9 88.6h0M253.9 84.2h0M256.6 69.4h0M259.1 76.3h0M275.2 78.2h0M269.9 78.2h0M259.1 86.3h0M275.2 82.1h0M271.8 66.4h0M256.6 78.2h0M259.1 60.8h0M256.6 66.4h0M261.5 86.3h0M271.8 72.7h0M271.8 74.5h0M263.8 67.9h0M261.5 82.1h0M275.2 62.1h0M253.9 80.1h0M265.9 62.1h0M271.8 64.9h0M263.8 54.9h0M261.5 54.9h0M276.8 58.4h0M259.1 58.4h0M276.8 76.3h0M276.8 69.4h0M275.2 54.9h0M253.9 57.2h0M276.8 54.9h0M261.5 59.6h0M251.1 58.4h0M268.0 54.9h0M256.6 53.9h0M251.1 57.2h0M269.9 59.6h0M261.5 58.4h0M265.9 57.2h0M253.9 56.0h0M275.2 59.6h0M261.5 56.0h0M276.8 59.6h0M251.1 54.9h0M268.0 58.4h0M247.5 57.2h0M276.8 53.9h0M265.9 58.4h0M273.6 59.6h0M269.9 54.9h0M271.8 58.4h0M275.2 58.4h0M273.6 54.9h0M256.6 56.0h0M256.6 58.4h0M276.8 62.1h0M276.8 57.2h0M263.8 58.4h0M271.8 59.6h0M276.8 60.8h0M276.8 56.0h0M263.8 57.2h0M273.6 56.0h0M269.9 53.9h0M253.9 58.4h0M259.1 57.2h0M263.8 56.0h0M259.1 59.6h0M263.8 59.6h0M253.9 53.9h0M276.8 67.9h0M256.6 54.9h0M273.6 53.9h0M268.0 59.6h0M265.9 59.6h0" stroke="#000" stroke-width="2.4" stroke-linecap="round" fill="none"/><path d="M282.0 62.1h0M288.4 60.8h0M284.3 54.9h0M281.5 72.7h0M279.0 72.7h0M291.9 56.0h0M279.4 62.1h0M284.0 69.4h0M284.6 52.9h0M283.9 58.4h0M279.9 56.0h0M285.6 66.4h0M278.3 80.1h0M278.3 76.3h0M294.4 57.2h0M278.2 58.4h0M287.0 64.9h0M281.9 53.9h0M278.9 64.9h0M280.7 67.9h0M280.3 58.4h0M289.3 58.4h0M282.4 59.6h0M280.2 74.5h0M279.7 52.9h0M280.8 76.3h0M282.6 71.1h0M291.6 58.4h0M278.1 60.8h0M279.8 78.2h0M290.7 53.9h0M289.1 56.0h0M285.9 56.0h0M281.8 56.0h0M286.6 59.6h0M282.0 64.9h0M287.7 53.9h0M279.5 69.4h0M278.4 74.5h0M289.8 62.1h0M279.0 82.1h0" stroke="#000" stroke-width="2.4" stroke-linecap="round" fill="none"/><path d="M219.2 60.8h0M222.0 76.3h0M222.0 62.1h0M222.0 129.3h0M222.0 90.9h0M222.0 113.7h0M219.2 86.3h0M222.0 84.2h0M219.2 67.9h0M222.0 63.5h0M219.2 64.9h0M222.0 78.2h0M222.0 74.5h0M222.0 105.5h0M222.0 88.6h0M219.2 66.4h0M219.2 99.5h0M219.2 62.1h0M222.0 67.9h0M219.2 78.2h0M222.0 66.4h0M222.0 80.1h0M222.0 71.1h0M219.2 63.5h0M219.2 88.6h0M219.2 69.4h0M219.2 105.5h0M219.2 80.1h0M219.2 84.2h0M222.0 69.4h0M219.2 74.5h0M219.2 82.1h0M219.2 72.7h0M219.2 113.7h0M222.0 127.1h0M219.2 93.3h0M219.2 90.9h0M222.0 72.7h0M222.0 59.6h0M222.0 60.8h0M219.2 76.3h0M219.2 127.1h0M219.2 129.3h0M222.0 93.3h0M219.2 71.1h0M222.0 99.5h0M236.6 78.2h0M236.6 62.1h0M236.6 88.6h0M236.6 127.1h0M236.6 63.5h0M236.6 59.6h0M236.6 71.1h0M236.6 74.5h0M236.6 80.1h0M236.6 64.9h0M236.6 90.9h0M236.6 66.4h0M236.6 60.8h0M236.6 76.3h0M236.6 129.3h0M236.6 82.1h0M236.6 105.5h0M236.6 67.9h0M236.6 93.3h0M236.6 72.7h0M236.6 86.3h0M241.7 129.3h0M241.7 60.8h0M241.7 80.1h0M241.7 64.9h0M241.7 88.6h0M241.7 69.4h0M241.7 84.2h0M241.7 86.3h0M241.7 99.5h0M241.7 67.9h0M241.7 105.5h0M241.7 57.2h0M241.7 93.3h0M241.7 127.1h0M241.7 71.1h0M241.7 113.7h0M241.7 74.5h0M241.7 90.9h0M241.7 63.5h0M241.7 66.4h0M241.7 59.6h0M241.7 76.3h0M241.7 58.4h0M247.5 129.3h0M247.5 105.5h0M251.1 129.3h0M251.1 105.5h0M251.1 127.1h0M247.5 113.7h0M247.5 127.1h0M251.1 99.5h0M247.5 99.5h0M271.8 113.7h0M263.8 99.5h0M259.1 113.7h0M273.6 105.5h0M259.1 127.1h0M268.0 129.3h0M265.9 129.3h0M261.5 127.1h0M273.6 129.3h0M261.5 129.3h0M259.1 99.5h0M263.8 105.5h0M251.1 113.7h0M256.6 113.7h0M253.9 113.7h0M273.6 99.5h0M265.9 113.7h0M261.5 99.5h0M259.1 129.3h0M261.5 105.5h0M269.9 127.1h0M269.9 129.3h0M275.2 99.5h0M269.9 113.7h0M261.5 113.7h0M269.9 105.5h0M268.0 99.5h0M273.6 113.7h0M275.2 113.7h0M265.9 99.5h0M265.9 127.1h0M268.0 105.5h0M263.8 129.3h0M256.6 127.1h0M253.9 105.5h0M263.8 113.7h0M259.1 105.5h0M263.8 127.1h0M271.8 127.1h0M268.0 127.1h0M269.9 99.5h0M253.9 129.3h0M256.6 105.5h0M268.0 113.7h0M271.8 105.5h0M256.6 99.5h0M271.8 129.3h0M253.9 99.5h0M253.9 127.1h0M236.6 113.7h0M256.6 129.3h0M236.6 99.5h0M265.9 105.5h0M271.8 99.5h0M275.2 105.5h0M275.2 127.1h0M273.6 127.1h0M275.2 129.3h0" stroke="#000" stroke-width="2.3" stroke-linecap="round" fill="none"/><path d="M220.7 42.8h0M220.7 45.9h0M236.6 50.2h0M241.7 49.5h0M236.6 55.0h0M241.7 53.0h0M277.3 32.1h0M275.1 33.9h0M275.1 36.7h0M279.5 37.8h0M283.4 37.6h0M277.3 39.9h0M250.8 38.2h0M258.2 37.6h0M274.3 42.5h0M283.4 42.1h0M253.0 45.6h0M256.3 45.6h0M256.3 48.0h0M253.0 49.0h0M241.9 49.5h0M265.6 45.1h0M267.8 45.1h0M269.5 47.3h0M272.1 46.9h0M274.3 48.2h0M276.4 45.6h0M279.5 44.7h0M280.8 47.3h0M271.2 49.9h0M274.7 50.8h0M278.2 50.8h0M281.6 50.3h0M262.1 52.1h0M265.2 52.5h0M269.9 52.5h0M275.6 53.4h0M300.8 18.0h0M300.4 20.8h0M309.9 22.1h0M306.0 23.4h0M307.6 25.4h0M309.9 27.8h0M302.7 29.3h0M304.1 31.2h0M308.2 30.8h0M298.2 31.2h0M299.5 34.7h0M291.7 34.3h0M295.6 35.2h0M286.5 33.2h0M303.4 37.8h0M284.3 36.5h0M282.6 37.8h0M286.1 38.6h0M288.7 38.2h0M292.1 37.8h0M294.3 39.5h0M297.3 39.9h0M298.6 40.8h0M292.1 41.2h0M295.2 43.0h0M302.5 45.1h0M283.9 43.0h0M280.9 45.1h0M285.2 45.6h0M290.8 45.6h0M293.9 45.6h0M288.7 48.2h0M291.3 49.5h0M293.0 49.9h0M282.6 48.2h0M285.2 52.5h0M297.3 52.9h0M282.2 51.6h0M287.1 72.1h0M284.9 69.8h0M282.8 63.9h0M294.0 78.4h0M286.9 80.4h0M284.5 84.7h0M280.2 73.4h0M277.1 83.0h0M275.8 87.3h0M298.8 57.8h0M296.6 53.5h0M293.2 56.9h0M290.1 58.7h0M288.0 56.5h0M301.0 87.2h0M275.5 87.0h0M282.8 99.5h0M287.2 99.5h0M293.8 99.5h0M277.5 113.5h0M279.5 113.5h0M283.2 113.5h0M290.0 113.5h0M276.8 127.1h0M297.2 127.1h0M280.0 129.3h0M282.5 129.3h0M285.5 129.3h0M301.0 129.3h0M307.7 58.5h0" stroke="#000" stroke-width="2.60" stroke-linecap="round" fill="none"/><path d="M271.7 17.6h0M280.3 16.5h0M275.1 22.3h0M306.5 11.3h0M289.5 15.9h0M299.1 16.2h0M304.7 19.1h0M316.3 15.9h0M312.3 19.1h0M313.1 23.4h0M320.3 23.2h0M289.1 27.2h0M311.7 34.5h0M291.4 69.3h0M309.0 93.0h0M310.5 99.2h0" stroke="#000" stroke-width="3.1" stroke-linecap="round" fill="none"/><path d="M377.0 79.6h0M378.6 77.7h0M377.0 67.4h0M377.0 77.7h0M377.0 75.8h0M377.0 90.4h0M378.6 92.8h0M377.0 63.0h0M378.6 64.4h0M378.6 63.0h0M377.0 65.9h0M378.6 72.2h0M378.6 90.4h0M377.0 85.8h0M378.6 83.7h0M378.6 79.6h0M378.6 81.6h0M377.0 70.6h0M378.6 65.9h0M377.0 61.6h0M377.0 88.1h0M382.0 92.8h0M383.6 92.8h0M391.3 92.8h0M389.8 92.8h0M386.8 92.8h0M380.3 92.8h0M385.2 92.8h0M377.0 92.8h0M388.3 92.8h0M398.2 81.6h0M383.6 83.7h0M382.0 63.0h0M391.3 64.4h0M380.3 79.6h0M389.8 61.6h0M392.7 77.7h0M391.3 59.1h0M396.9 75.8h0M392.7 81.6h0M389.8 64.4h0M386.8 90.4h0M385.2 68.9h0M382.0 88.1h0M391.3 72.2h0M395.5 83.7h0M392.7 60.3h0M392.7 59.1h0M388.3 85.8h0M399.5 81.6h0M383.6 61.6h0M386.8 72.2h0M388.3 67.4h0M396.9 79.6h0M380.3 60.3h0M380.3 75.8h0M394.1 92.8h0M388.3 70.6h0M396.9 70.6h0M398.2 83.7h0M380.3 85.8h0M380.3 68.9h0M385.2 85.8h0M386.8 60.3h0M380.3 63.0h0M394.1 79.6h0M398.2 67.4h0M385.2 81.6h0M385.2 65.9h0M382.0 70.6h0M391.3 60.3h0M386.8 85.8h0M398.2 63.0h0M385.2 67.4h0M395.5 63.0h0M391.3 81.6h0M383.6 72.2h0M394.1 75.8h0M399.5 77.7h0M388.3 75.8h0M391.3 57.9h0M386.8 77.7h0M396.9 72.2h0M398.2 75.8h0M386.8 65.9h0M396.9 65.9h0M398.2 74.0h0M377.0 81.6h0M391.3 65.9h0M380.3 72.2h0M392.7 74.0h0M395.5 77.7h0M398.2 72.2h0M383.6 85.8h0M383.6 60.3h0M386.8 74.0h0M383.6 90.4h0M385.2 72.2h0M380.3 77.7h0M395.5 68.9h0M386.8 67.4h0M392.7 90.4h0M392.7 83.7h0M392.7 79.6h0M394.1 68.9h0M385.2 75.8h0M391.3 83.7h0M389.8 59.1h0M396.9 83.7h0M395.5 88.1h0M394.1 67.4h0M385.2 88.1h0M383.6 77.7h0M394.1 59.1h0M394.1 72.2h0M388.3 64.4h0M394.1 81.6h0M396.9 67.4h0M392.7 68.9h0M378.6 88.1h0M378.6 75.8h0M383.6 59.1h0M389.8 67.4h0M378.6 85.8h0M394.1 70.6h0M391.3 74.0h0M377.0 83.7h0M396.9 63.0h0M396.9 64.4h0M382.0 67.4h0M386.8 64.4h0M398.2 59.1h0M388.3 57.9h0M395.5 81.6h0M398.2 79.6h0M385.2 59.1h0M396.9 77.7h0M382.0 75.8h0M388.3 59.1h0M385.2 70.6h0M386.8 59.1h0M378.6 70.6h0M392.7 64.4h0M389.8 83.7h0M388.3 60.3h0M389.8 85.8h0M392.7 88.1h0M391.3 70.6h0M391.3 68.9h0M377.0 64.4h0M399.5 72.2h0M389.8 77.7h0M399.5 57.9h0M382.0 77.7h0M380.3 90.4h0M383.6 64.4h0M388.3 79.6h0M380.3 88.1h0M385.2 63.0h0M380.3 59.1h0M389.8 81.6h0M398.2 88.1h0M380.3 74.0h0M378.6 61.6h0M386.8 57.9h0M395.5 65.9h0M389.8 74.0h0M377.0 68.9h0M396.9 59.1h0M398.2 85.8h0M394.1 85.8h0M389.8 72.2h0M396.9 74.0h0M389.8 70.6h0M386.8 70.6h0M395.5 61.6h0M382.0 85.8h0M388.3 68.9h0M382.0 79.6h0M395.5 64.4h0M399.5 70.6h0M399.5 75.8h0M380.3 81.6h0M391.3 79.6h0M394.1 90.4h0M398.2 68.9h0M394.1 83.7h0M386.8 75.8h0M385.2 64.4h0M392.7 61.6h0M398.2 65.9h0M396.9 81.6h0M392.7 70.6h0M378.6 67.4h0M386.8 79.6h0M392.7 72.2h0M385.2 74.0h0M395.5 72.2h0M388.3 63.0h0M382.0 64.4h0M382.0 74.0h0M398.2 61.6h0M396.9 88.1h0" stroke="#000" stroke-width="2.2" stroke-linecap="round" fill="none"/><path d="M402.4 74.0h0M402.6 64.4h0M402.5 72.2h0M400.7 68.9h0M401.0 75.8h0M402.9 57.9h0M401.0 79.6h0M402.7 70.6h0M402.3 61.6h0M400.5 64.4h0M400.3 61.6h0M404.5 65.9h0M404.4 63.0h0M404.3 60.3h0M401.1 59.1h0M400.8 70.6h0" stroke="#000" stroke-width="2.4" stroke-linecap="round" fill="none"/><path d="M351.5 83.7h0M348.9 113.2h0M351.5 99.0h0M351.5 88.1h0M348.9 67.4h0M348.9 61.6h0M348.9 59.1h0M348.9 64.4h0M351.5 63.0h0M348.9 79.6h0M351.5 126.6h0M351.5 77.7h0M351.5 75.8h0M351.5 65.9h0M351.5 128.8h0M348.9 74.0h0M348.9 75.8h0M351.5 64.4h0M351.5 92.8h0M348.9 72.2h0M351.5 61.6h0M351.5 70.6h0M348.9 70.6h0M348.9 68.9h0M348.9 105.0h0M351.5 113.2h0M351.5 85.8h0M351.5 59.1h0M351.5 72.2h0M348.9 65.9h0M351.5 60.3h0M348.9 128.8h0M351.5 79.6h0M351.5 81.6h0M348.9 99.0h0M348.9 90.4h0M348.9 60.3h0M351.5 105.0h0M351.5 68.9h0M351.5 67.4h0M348.9 77.7h0M351.5 74.0h0M348.9 85.8h0M351.5 90.4h0M348.9 92.8h0M360.6 105.0h0M360.6 128.8h0M360.6 85.8h0M360.6 67.4h0M360.6 72.2h0M360.6 59.1h0M360.6 56.7h0M360.6 88.1h0M360.6 57.9h0M360.6 99.0h0M360.6 113.2h0M360.6 64.4h0M360.6 74.0h0M360.6 126.6h0M360.6 60.3h0M360.6 63.0h0M360.6 79.6h0M360.6 68.9h0M360.6 81.6h0M360.6 90.4h0M360.6 61.6h0M360.6 83.7h0M360.6 70.6h0M366.4 83.7h0M366.4 81.6h0M366.4 92.8h0M366.4 65.9h0M366.4 77.7h0M366.4 75.8h0M366.4 61.6h0M366.4 79.6h0M366.4 88.1h0M366.4 128.8h0M366.4 59.1h0M366.4 113.2h0M366.4 70.6h0M366.4 63.0h0M366.4 90.4h0M366.4 57.9h0M366.4 60.3h0M366.4 85.8h0M366.4 126.6h0M366.4 105.0h0M366.4 74.0h0M370.2 88.1h0M370.2 81.6h0M370.2 72.2h0M370.2 79.6h0M370.2 105.0h0M370.2 59.1h0M370.2 61.6h0M370.2 90.4h0M370.2 126.6h0M370.2 99.0h0M370.2 63.0h0M370.2 77.7h0M370.2 60.3h0M370.2 74.0h0M370.2 67.4h0M370.2 128.8h0M370.2 113.2h0M370.2 75.8h0M370.2 92.8h0M370.2 83.7h0M370.2 70.6h0M370.2 65.9h0M375.2 85.8h0M378.6 126.6h0M375.2 88.1h0M375.2 92.8h0M373.1 128.8h0M373.1 70.6h0M373.1 90.4h0M375.2 90.4h0M375.2 128.8h0M373.1 85.8h0M373.1 74.0h0M375.2 64.4h0M378.6 105.0h0M373.1 67.4h0M373.1 72.2h0M375.2 126.6h0M375.2 105.0h0M373.1 113.2h0M375.2 65.9h0M377.0 105.0h0M375.2 68.9h0M373.1 60.3h0M373.1 105.0h0M375.2 70.6h0M378.6 113.2h0M375.2 67.4h0M375.2 79.6h0M373.1 61.6h0M375.2 83.7h0M373.1 77.7h0M375.2 74.0h0M373.1 92.8h0M380.3 99.0h0M388.3 99.0h0M373.1 126.6h0M383.6 99.0h0M383.6 113.2h0M382.0 99.0h0M383.6 105.0h0M385.2 128.8h0M382.0 128.8h0M375.2 99.0h0M380.3 126.6h0M380.3 105.0h0M391.3 126.6h0M380.3 113.2h0M375.2 113.2h0M385.2 99.0h0M383.6 126.6h0M360.6 92.8h0M386.8 126.6h0M386.8 128.8h0M386.8 113.2h0M382.0 126.6h0M389.8 105.0h0M373.1 99.0h0M385.2 126.6h0M377.0 99.0h0M348.9 126.6h0M378.6 128.8h0M391.3 128.8h0M391.3 105.0h0M385.2 105.0h0M382.0 105.0h0M380.3 128.8h0M389.8 128.8h0M386.8 99.0h0M378.6 99.0h0M391.3 99.0h0M377.0 126.6h0M377.0 113.2h0M366.4 99.0h0M391.3 113.2h0M388.3 113.2h0M385.2 113.2h0M386.8 105.0h0M388.3 128.8h0M388.3 126.6h0M389.8 113.2h0M389.8 99.0h0M377.0 128.8h0M383.6 128.8h0M389.8 126.6h0M382.0 113.2h0M388.3 105.0h0" stroke="#000" stroke-width="2.3" stroke-linecap="round" fill="none"/><path d="M349.6 42.5h0M349.6 45.8h0M349.6 50.6h0M349.6 53.0h0M349.6 55.5h0M360.6 46.0h0M366.4 46.3h0M366.4 52.5h0M370.2 47.5h0M370.2 55.8h0M373.1 46.5h0M394.3 33.1h0M395.8 34.6h0M373.6 38.7h0M379.4 38.9h0M385.2 38.4h0M386.6 37.5h0M390.5 37.0h0M392.4 38.4h0M389.5 40.8h0M391.4 41.8h0M395.8 43.2h0M382.8 46.1h0M386.4 44.2h0M389.0 47.1h0M393.4 46.6h0M378.9 49.0h0M380.8 50.0h0M386.6 49.5h0M388.5 51.4h0M393.8 49.5h0M397.2 50.5h0M379.4 54.3h0M381.8 55.8h0M389.5 53.8h0M392.4 55.3h0M395.8 52.4h0M398.2 53.4h0M383.7 57.5h0M387.6 57.8h0M391.4 57.5h0M395.3 57.2h0M403.4 28.3h0M402.9 30.2h0M414.3 32.6h0M401.9 35.2h0M404.3 35.5h0M406.7 35.0h0M412.5 35.2h0M414.5 37.0h0M407.2 38.4h0M409.2 38.9h0M410.6 37.9h0M415.4 39.9h0M417.8 39.4h0M402.7 40.8h0M408.7 40.8h0M413.0 43.2h0M414.5 45.2h0M405.3 45.2h0M429.4 45.6h0M401.0 46.6h0M402.9 48.5h0M405.3 47.1h0M411.1 49.5h0M414.9 50.5h0M417.1 48.5h0M423.1 50.0h0M423.1 52.4h0M407.7 52.4h0M409.6 53.8h0M403.4 54.3h0M401.9 56.2h0M411.6 57.2h0M418.8 58.7h0M407.2 58.7h0M418.8 59.2h0M421.0 60.3h0M412.0 56.6h0M412.5 60.3h0M406.1 61.4h0M408.8 59.8h0M413.0 69.8h0M415.7 73.5h0M412.0 74.1h0M413.5 76.7h0M408.8 67.7h0M406.7 68.8h0M405.6 76.7h0M407.2 77.2h0M418.8 80.2h0M420.4 84.4h0M406.7 82.5h0M404.5 84.1h0M404.0 86.3h0M399.8 92.2h0M402.4 98.5h0M410.9 98.5h0M448.9 128.1h0M418.0 128.1h0M405.0 128.5h0M410.0 128.5h0M393.9 32.8h0M395.6 34.4h0M403.0 30.7h0M401.7 34.7h0M403.7 35.4h0M373.7 38.6h0M379.3 38.8h0M384.5 38.4h0M386.5 37.1h0M390.2 36.7h0M392.9 38.1h0M402.4 40.7h0M389.6 40.8h0M391.6 42.1h0M395.6 42.8h0M386.2 43.8h0M382.8 45.2h0M370.7 47.7h0M373.7 46.7h0M378.8 48.9h0M381.1 49.9h0M387.9 46.9h0M389.6 47.7h0M392.9 46.9h0M394.3 48.2h0M401.0 45.8h0M403.7 45.2h0M399.0 48.5h0M401.7 48.9h0M387.9 50.2h0M386.2 52.6h0M390.2 52.9h0M395.6 51.6h0M397.6 52.3h0M380.8 53.6h0M379.1 55.3h0M370.7 55.6h0M395.3 55.3h0M402.4 53.6h0M389.6 57.0h0M391.6 58.3h0M381.8 57.3h0M399.0 57.6h0M403.4 57.0h0M395.0 92.2h0M400.0 92.2h0M390.0 98.5h0M393.0 98.5h0M396.5 98.5h0M401.7 98.5h0M398.6 112.3h0M401.7 125.2h0M404.0 125.2h0M406.5 125.2h0M394.0 127.8h0M398.0 127.8h0M402.0 127.8h0M406.0 127.8h0M411.3 127.8h0M415.5 127.8h0M419.6 127.8h0M394.0 104.0h0M388.0 112.3h0" stroke="#000" stroke-width="2.60" stroke-linecap="round" fill="none"/><path d="M348.6 19.7h0M391.9 17.9h0M406.6 12.2h0M406.6 18.5h0M410.6 19.2h0M414.9 17.9h0M419.7 17.2h0M435.2 16.9h0M436.6 20.1h0M437.1 22.0h0M405.8 24.6h0M410.8 23.3h0M421.4 23.5h0M427.2 24.5h0M431.3 24.0h0M431.3 28.3h0M436.6 27.3h0M426.0 32.2h0M434.2 40.8h0M432.8 57.7h0M432.6 58.2h0M434.0 69.6h0M425.2 82.3h0M409.8 92.2h0M420.2 92.2h0" stroke="#000" stroke-width="3.1" stroke-linecap="round" fill="none"/></svg></body></html>
